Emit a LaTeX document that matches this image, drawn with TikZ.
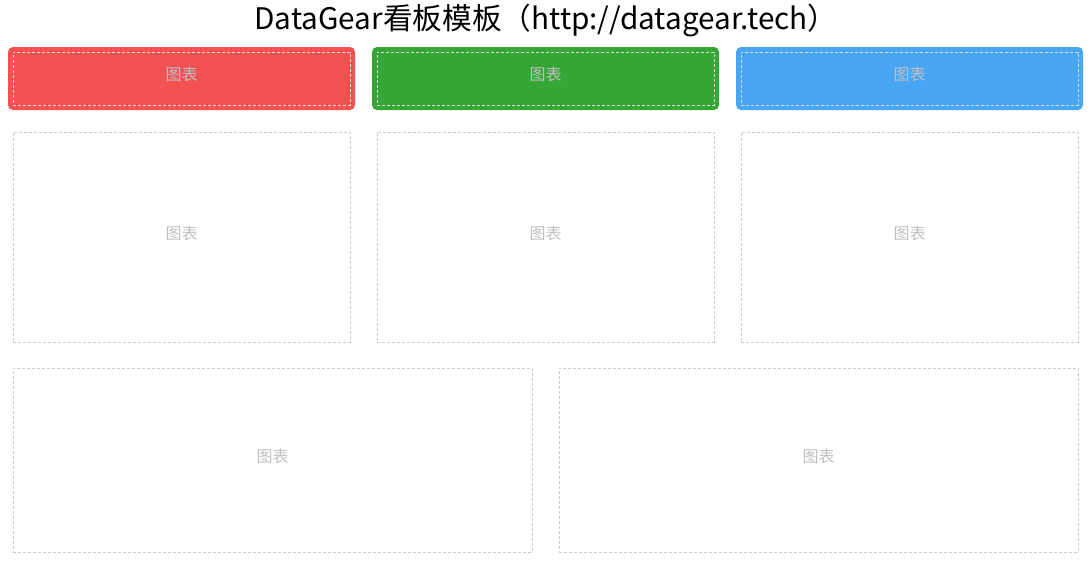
\documentclass[tikz,border=0pt]{standalone}
\usepackage{fontspec}
\setmainfont{Noto Sans CJK SC}
\usetikzlibrary{positioning}

\definecolor{boardred}{RGB}{244,82,82}
\definecolor{boardgreen}{RGB}{54,166,54}
\definecolor{boardblue}{RGB}{72,166,242}
\definecolor{chartline}{RGB}{204,204,204}
\definecolor{charttext}{RGB}{192,192,192}

\tikzset{
  header/.style = {rounded corners=5pt, minimum width=347pt, minimum height=63pt, inner sep=0pt},
  chart/.style  = {draw=chartline, dash pattern=on 3pt off 2pt, line width=1pt,
                   text=charttext, font=\fontsize{16}{16}\selectfont, inner sep=0pt,
                   text height=6pt, text depth=2pt},
}

\begin{document}
\begin{tikzpicture}[x=1pt, y=-1pt]

        \useasboundingbox (0,0) rectangle (1092,566);

        % Title
        \node (title) at (546,20) {\fontsize{29.7}{30}\selectfont DataGear看板模板（http://datagear.tech）};

        % Coloured header row
        \foreach \x/\col/\n in {181.5/boardred/1, 545.5/boardgreen/2, 909.5/boardblue/3} {
            \node[header, fill=\col] (head\n) at (\x,78.5) {};
            \node[chart, draw=white!85!black, minimum width=337pt, minimum height=53pt] (headchart\n) at (head\n) {图表};
        }

        % Middle row
        \foreach \x/\n in {181.5/1, 545.5/2, 909.5/3}
        \node[chart, minimum width=337pt, minimum height=210pt] (mid\n) at (\x,237) {图表};

        % Bottom row
        \node[chart, minimum width=519pt, minimum height=184pt] (low1) at (272.5,460) {图表};
        \node[chart, minimum width=519pt, minimum height=184pt] (low2) at (818.5,460) {图表};

    \end{tikzpicture}
\end{document}
